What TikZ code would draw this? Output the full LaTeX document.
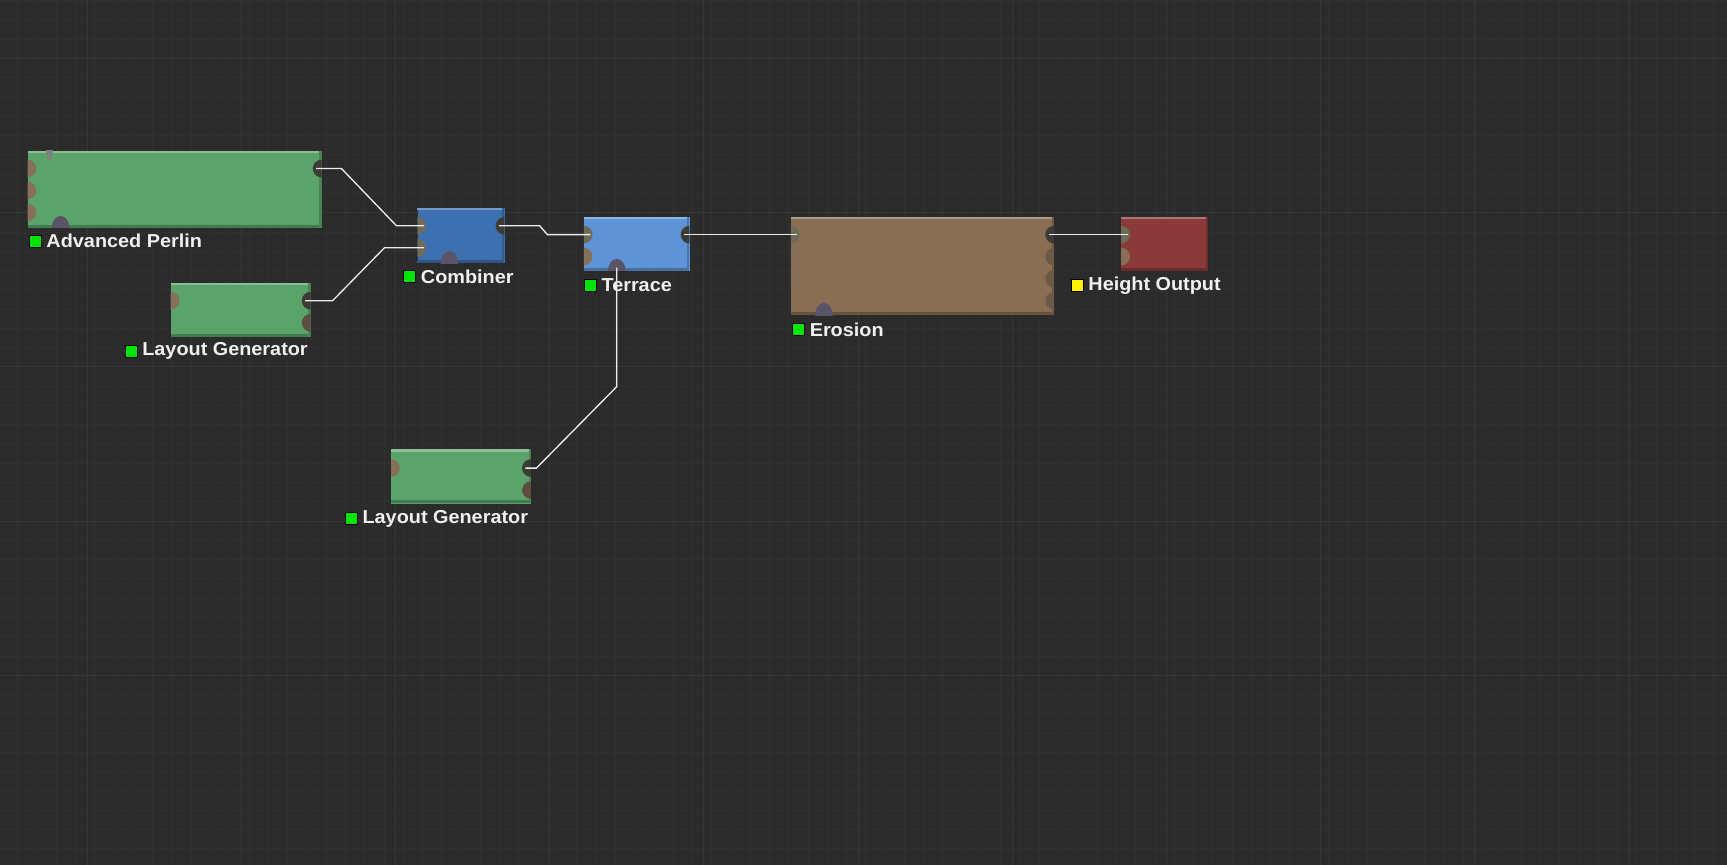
\documentclass[tikz,border=0pt]{standalone}
\usepackage{fontspec}
\setmainfont{Liberation Sans}
\newfontfamily\lblfont{Liberation Sans}[FakeStretch=1.06]
\begin{document}
\begin{tikzpicture}[x=1pt,y=-1pt,
  box/.style={draw=none,anchor=north west,inner sep=0pt},
  wire/.style={draw=white!85!gray,line width=1.2pt},
  lbl/.style={anchor=west,inner sep=0pt,text=white!88!gray,font=\lblfont\bfseries\fontsize{17}{17}\selectfont},
  sq/.style={draw=black,line width=0.6pt,fill=green!90!black,minimum size=11pt,inner sep=0pt}]
\definecolor{bg}{HTML}{2B2B2B}
\definecolor{gmin}{HTML}{303030}
\definecolor{gmaj}{HTML}{363636}
\definecolor{pbrown}{HTML}{86705A}
\definecolor{pgrey}{HTML}{6E6B58}
\definecolor{pdark}{HTML}{3C3C34}
\definecolor{ppur}{HTML}{5A5468}
\fill[bg] (0,0) rectangle (1568,785);
\useasboundingbox (0,0) rectangle (1568,785);
\foreach \i in {0,...,90} {\draw[gmin,line width=0.6pt] (\i*17.5-1.5,0) -- (\i*17.5-1.5,785);}
\foreach \i in {0,...,45} {\draw[gmin,line width=0.6pt] (0,\i*17.5+0.5) -- (1568,\i*17.5+0.5);}
\foreach \i in {0,...,11} {\draw[gmaj,line width=0.8pt] (79+\i*140-140,0) -- (79+\i*140-140,785);}
\foreach \i in {0,...,5} {\draw[gmaj,line width=0.8pt] (0,53+\i*140-140) -- (1568,53+\i*140-140);}
\newcommand\nbox[6]{%
  \node[box,fill=#6,minimum width={#4-#2},minimum height={#5-#3}] (#1) at (#2,#3) {};
  \fill[#6!70!white] (#2,#3) rectangle (#4,#3+2);
  \fill[#6!75!black] (#2,#5-3) rectangle (#4,#5);
  \fill[#6!80!black] (#4-2,#3) rectangle (#4,#5);
  \clip (#2,#3) rectangle (#4,#5);}
\newcommand\port[3]{\fill[#3] (#1,#2) circle[radius=8];}
\newcommand\bport[3]{\fill[#3] (#1,#2) ellipse[x radius=8,y radius=11];}
\definecolor{cg}{HTML}{5AA36A}
\definecolor{cb}{HTML}{3D70B0}
\definecolor{clb}{HTML}{5E94D6}
\definecolor{cbr}{HTML}{8A6E54}
\definecolor{cr}{HTML}{8B3A3A}
\begin{scope}\nbox{ap}{25}{137}{292}{207}{cg}
\port{25}{153}{pbrown}\port{25}{173}{pbrown}\port{25}{193}{pbrown}
\fill[gray] (45,137) ellipse[x radius=3,y radius=9];
\bport{55}{207}{ppur}\port{292}{153}{pdark}\end{scope}
\begin{scope}\nbox{lg}{155}{257}{282}{306}{cg}
\port{155}{273}{pbrown}\port{282}{273}{pdark}\port{282}{293}{pbrown!70!black}\end{scope}
\begin{scope}\nbox{cmb}{379}{189}{458}{239}{cb}
\port{379}{205}{pgrey}\port{379}{225}{pgrey}\port{458}{205}{pdark}\bport{408}{239}{ppur}\end{scope}
\begin{scope}\nbox{ter}{530}{197}{626}{246}{clb}
\port{530}{213}{pgrey}\port{530}{233}{pbrown}\port{626}{213}{pdark}\bport{560}{246}{ppur}\end{scope}
\begin{scope}\nbox{ero}{718}{197}{957}{286}{cbr}
\port{718}{213}{pgrey}\port{718}{233}{pbrown}\port{718}{253}{pbrown}
\port{957}{213}{pdark}\port{957}{233}{pbrown!80!black}\port{957}{253}{pbrown!80!black}\port{957}{273}{pbrown!80!black}
\bport{748}{286}{ppur}\end{scope}
\begin{scope}\nbox{ho}{1018}{197}{1097}{246}{cr}
\port{1018}{213}{pgrey}\port{1018}{233}{pbrown}\end{scope}
\begin{scope}\nbox{lgb}{355}{408}{482}{457}{cg}
\port{355}{425}{pbrown}\port{482}{425}{pdark}\port{482}{445}{pbrown!70!black}\end{scope}
% labels
\node[sq] (sap) at (32,219) {}; \node[lbl] (tap) at (42,219) {Advanced Perlin};
\node[sq] (slg) at (119,319) {}; \node[lbl] (tlg) at (129,319) {Layout Generator};
\node[sq] (scm) at (372,251) {}; \node[lbl] (tcm) at (382,251) {Combiner};
\node[sq] (ste) at (536,259) {}; \node[lbl] (tte) at (546,259) {Terrace};
\node[sq] (ser) at (725,299) {}; \node[lbl] (ter2) at (735,299) {Erosion};
\node[sq,fill=yellow] (sho) at (978,259) {}; \node[lbl] (tho) at (988,259) {Height Output};
\node[sq] (slb) at (319,471) {}; \node[lbl] (tlb) at (329,471) {Layout Generator};
% port coordinates
\coordinate (ap-o) at (287,153); \coordinate (lg-o) at (277,273);
\coordinate (cmb-a) at (385,205); \coordinate (cmb-b) at (385,225); \coordinate (cmb-o) at (453,205);
\coordinate (ter-a) at (536,213); \coordinate (ter-o) at (621,213); \coordinate (ter-m) at (560,243);
\coordinate (ero-a) at (724,213); \coordinate (ero-o) at (952,213);
\coordinate (ho-a) at (1024,213); \coordinate (lgb-o) at (477,425);
\draw[wire] (ap-o) -- ++(23,0) -- (360,205) -- (cmb-a);
\draw[wire] (lg-o) -- ++(25,0) -- (349,225) -- (cmb-b);
\draw[wire] (cmb-o) -- (490,205) -- (497,213) -- (ter-a);
\draw[wire] (ter-o) -- (ero-a);
\draw[wire] (ero-o) -- (ho-a);
\draw[wire] (lgb-o) -- (487,425) -- (560,351) -- (ter-m);
\end{tikzpicture}
\end{document}
